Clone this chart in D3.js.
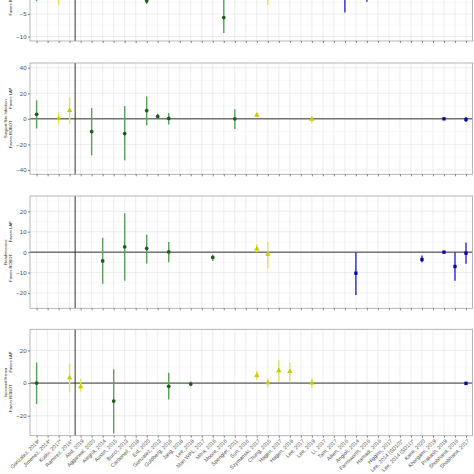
<!DOCTYPE html>
<html lang="en">
  <head>
    <meta charset="utf-8">
    <title>Robot vs Lap outcomes</title>
    <script src="https://d3js.org/d3.v7.min.js"></script>
    <style>
      body { margin: 0; background: white; }
      svg { display: block; overflow: hidden; }
      text { font-family: "Liberation Sans", Arial, sans-serif; }
    </style>
  </head>
  <body>
  <script>

  var w = 474;
  var h = 474;

  // study names along the x axis
  var studies = [
    "Gonzalez, 2019*", "Jimenez, 2014*", "Kudsi, 2017*", "Ramirez, 2016*",
    "Abd, 2019", "Aggarwal, 2020", "Alegria, 2014", "Austin, 2015", "Bucci, 2013",
    "Carbonell, 2018", "Eid, 2020", "Gonzalez, 2013", "Guldberg, 2016", "Jang, 2018",
    "Lee, 2018", "Man WPL, 2017", "Mitra, 2016", "Moore, 2016", "Spengler, 2011",
    "Sun, 2016", "Szymanski, 2017", "Chung, 2015", "Hagen, 2017", "Hagen, 2018",
    "Lee, 2017", "Lee, 2019", "Li, 2017", "Tam, 2017", "Aiken, 2016", "Angioli, 2014",
    "Farnsworth, 2016", "Hamadi, 2016", "Higgins, 2017", "Lee, 2014 (SD10)*",
    "Lee, 2014 (SD11)*", "Kane, 2020", "Khorgami, 2019", "Prakash, 2019",
    "Shobhana, 2016", "Shobhana, 2017"
  ];

  // one array per outcome: study index, group, estimate, lower, upper
  var lengthOfStay = [
    {s: 0, g: "A", est: 0, lo: -2.2, hi: 2},
    {s: 2, g: "B", est: 1, lo: -3, hi: 5},
    {s: 10, g: "A", est: -2.1, lo: -2.8, hi: -1.4},
    {s: 17, g: "A", est: -5.8, lo: -9.2, hi: -1},
    {s: 21, g: "B", est: 1, lo: -3, hi: 5},
    {s: 28, g: "C", est: -1, lo: -4.7, hi: 3},
    {s: 30, g: "C", est: -0.5, lo: -2.3, hi: 1.3}
  ];

  var siteInfection = [
    {s: 0, g: "A", est: 3.5, lo: -7.5, hi: 14.5},
    {s: 2, g: "B", est: 0.3, lo: -4.5, hi: 5},
    {s: 3, g: "B", est: 6.5, lo: -4, hi: 17},
    {s: 5, g: "A", est: -10, lo: -28.5, hi: 8.5},
    {s: 8, g: "A", est: -11.5, lo: -32.5, hi: 10},
    {s: 10, g: "A", est: 6.5, lo: -5, hi: 17.5},
    {s: 11, g: "A", est: 1.9, lo: 0, hi: 4},
    {s: 12, g: "A", est: 0.3, lo: -4.5, hi: 4.5},
    {s: 18, g: "A", est: 0, lo: -8, hi: 7.5},
    {s: 20, g: "B", est: 2.9, lo: 1.5, hi: 4.5},
    {s: 25, g: "B", est: -0.3, lo: -3.5, hi: 2.5},
    {s: 37, g: "C", est: 0, lo: -1, hi: 1},
    {s: 39, g: "C", est: -0.5, lo: -2.5, hi: 1.5}
  ];

  var readmissions = [
    {s: 6, g: "A", est: -4.3, lo: -15.5, hi: 7},
    {s: 8, g: "A", est: 2.6, lo: -14, hi: 19},
    {s: 10, g: "A", est: 1.8, lo: -5.5, hi: 8.5},
    {s: 12, g: "A", est: 0.1, lo: -5, hi: 5},
    {s: 16, g: "A", est: -2.6, lo: -4.3, hi: -1.3},
    {s: 20, g: "B", est: 1.6, lo: 0, hi: 4},
    {s: 21, g: "B", est: -1, lo: -8, hi: 5},
    {s: 29, g: "C", est: -10.3, lo: -21, hi: 0},
    {s: 35, g: "C", est: -3.6, lo: -5, hi: -1.7},
    {s: 37, g: "C", est: 0, lo: -0.7, hi: 0.7},
    {s: 38, g: "C", est: -7, lo: -14, hi: 0},
    {s: 39, g: "C", est: -0.5, lo: -5.7, hi: 4.7}
  ];

  var incisionalHernia = [
    {s: 0, g: "A", est: 0, lo: -12.8, hi: 12.6},
    {s: 3, g: "B", est: 3.3, lo: -5.7, hi: 12},
    {s: 4, g: "B", est: -2.2, lo: -5.3, hi: 2.6},
    {s: 7, g: "A", est: -11, lo: -30.8, hi: 8.4},
    {s: 12, g: "A", est: -2, lo: -10, hi: 6.3},
    {s: 14, g: "A", est: -0.6, lo: -2, hi: 1},
    {s: 20, g: "B", est: 4.7, lo: 2, hi: 7.5},
    {s: 21, g: "B", est: 0.2, lo: -2.6, hi: 2.6},
    {s: 22, g: "B", est: 7.5, lo: 0.8, hi: 14},
    {s: 23, g: "B", est: 7.1, lo: 1.2, hi: 12.4},
    {s: 25, g: "B", est: 0, lo: -3, hi: 2.6},
    {s: 39, g: "C", est: -0.2, lo: -1.2, hi: 0.8}
  ];

  var titles = ["Length of Stay", "Surgical Site Infection", "Readmissions", "Incisional Hernia"];
  var yTicks = [[-10, -5, 0, 5, 10], [-40, -20, 0, 20, 40], [-20, -10, 0, 10, 20], [-20, 0, 20]];
  var yDomains = [[-10.97, 13.3], [-43.4, 43.7], [-27.5, 27.5], [-32.2, 32.9]];
  var outcomes = [lengthOfStay, siteInfection, readmissions, incisionalHernia];

  // layout of the panels (the first panel is cropped at the top)
  var plotL = 30, plotR = 472.6;
  var panelTop = [-69, 63, 196, 329.3];
  var panelBot = [41, 174.3, 308.3, 435.7];

  var barColor = {A: "#5c9e5c", B: "#e3e35a", C: "#2a2ad0"};
  var ptColor = {A: "#1d5c1d", B: "#c9c900", C: "#0000b0"};

  var x = d3.scalePoint()
      .domain(studies)
      .range([plotL, plotR])
      .padding(0.6);

  var divider = (x(studies[3]) + x(studies[4])) / 2;

  var svg = d3.select("body")
    .append("svg")
      .attr("width", w)
      .attr("height", h);

  svg.append("rect")
    .attr("width", w)
    .attr("height", h)
    .attr("fill", "white");

  outcomes.forEach(function(data, p) {
    var ph = panelBot[p] - panelTop[p];
    var y = d3.scaleLinear()
        .domain(yDomains[p])
        .range([ph, 0]);

    var g = svg.append("g")
        .attr("transform", `translate(0, ${panelTop[p]})`);

    // minor grid
    var ticks = yTicks[p];
    var step = ticks[1] - ticks[0];
    var minor = d3.range(ticks[0] - step / 2, ticks[ticks.length - 1] + step, step)
        .filter(v => v > yDomains[p][0] && v < yDomains[p][1]);
    g.selectAll("line.minor")
      .data(minor)
      .enter().append("line")
        .attr("x1", plotL).attr("x2", plotR)
        .attr("y1", d => y(d)).attr("y2", d => y(d))
        .attr("stroke", "#f2f2f2")
        .attr("stroke-width", 0.5);

    // major grid
    g.selectAll("line.hmajor")
      .data(ticks)
      .enter().append("line")
        .attr("x1", plotL).attr("x2", plotR)
        .attr("y1", d => y(d)).attr("y2", d => y(d))
        .attr("stroke", "#e6e6e6")
        .attr("stroke-width", 0.7);

    g.selectAll("line.vmajor")
      .data(studies)
      .enter().append("line")
        .attr("x1", d => x(d)).attr("x2", d => x(d))
        .attr("y1", 0).attr("y2", ph)
        .attr("stroke", "#e6e6e6")
        .attr("stroke-width", 0.7);

    // reference lines
    g.append("line")
      .attr("x1", plotL).attr("x2", plotR)
      .attr("y1", y(0)).attr("y2", y(0))
      .attr("stroke", "#333")
      .attr("stroke-width", 1);

    g.append("line")
      .attr("x1", divider).attr("x2", divider)
      .attr("y1", 0).attr("y2", ph)
      .attr("stroke", "#333")
      .attr("stroke-width", 1);

    // error bars
    g.selectAll("line.ci")
      .data(data)
      .enter().append("line")
        .attr("x1", d => x(studies[d.s])).attr("x2", d => x(studies[d.s]))
        .attr("y1", d => y(d.lo)).attr("y2", d => y(d.hi))
        .attr("stroke", d => barColor[d.g])
        .attr("stroke-width", 1.4);

    // markers
    var sym = {A: d3.symbolCircle, B: d3.symbolTriangle, C: d3.symbolSquare};
    var size = {A: 11, B: 12, C: 11};
    g.selectAll("path.pt")
      .data(data)
      .enter().append("path")
        .attr("transform", d => `translate(${x(studies[d.s])}, ${y(d.est)})`)
        .attr("d", d => d3.symbol().type(sym[d.g]).size(size[d.g])())
        .attr("fill", d => ptColor[d.g]);

    // border
    g.append("rect")
      .attr("x", plotL).attr("y", 0)
      .attr("width", plotR - plotL).attr("height", ph)
      .attr("fill", "none")
      .attr("stroke", "#a6a6a6")
      .attr("stroke-width", 0.8);

    // axes
    var yAxis = g.append("g")
        .attr("transform", `translate(${plotL}, 0)`)
        .call(d3.axisLeft(y).tickValues(ticks).tickSize(2).tickPadding(1.5));
    yAxis.select(".domain").remove();
    yAxis.selectAll("line").attr("stroke", "#333").attr("stroke-width", 0.6);
    yAxis.selectAll("text").attr("font-size", 6).attr("fill", "#4d4d4d");

    var xAxis = g.append("g")
        .attr("transform", `translate(0, ${ph})`)
        .call(d3.axisBottom(x).tickSize(2).tickFormat(""));
    xAxis.select(".domain").remove();
    xAxis.selectAll("line").attr("stroke", "#333").attr("stroke-width", 0.6);

    // y title
    var cy = ph / 2;
    g.append("text")
      .attr("transform", `translate(7, ${cy}) rotate(-90)`)
      .attr("text-anchor", "middle")
      .attr("font-size", 4)
      .attr("fill", "#222")
      .text(titles[p]);
    g.append("text")
      .attr("transform", `translate(11.6, ${cy + 2}) rotate(-90)`)
      .attr("text-anchor", "end")
      .attr("font-size", 4)
      .attr("fill", "#222")
      .text("Favors ROBOT");
    g.append("text")
      .attr("transform", `translate(11.6, ${cy - 10}) rotate(-90)`)
      .attr("text-anchor", "start")
      .attr("font-size", 4)
      .attr("fill", "#222")
      .text("Favors LAP");

    // study labels under the last panel
    if (p == outcomes.length - 1) {
      g.selectAll("text.study")
        .data(studies)
        .enter().append("text")
          .attr("transform", d => `translate(${x(d) + 1}, ${ph + 3}) rotate(-45)`)
          .attr("text-anchor", "end")
          .attr("dy", "0.7em")
          .attr("font-size", 5.3)
          .attr("fill", "#4d4d4d")
          .text(d => d);
    }
  });

  </script>
  </body>
</html>
